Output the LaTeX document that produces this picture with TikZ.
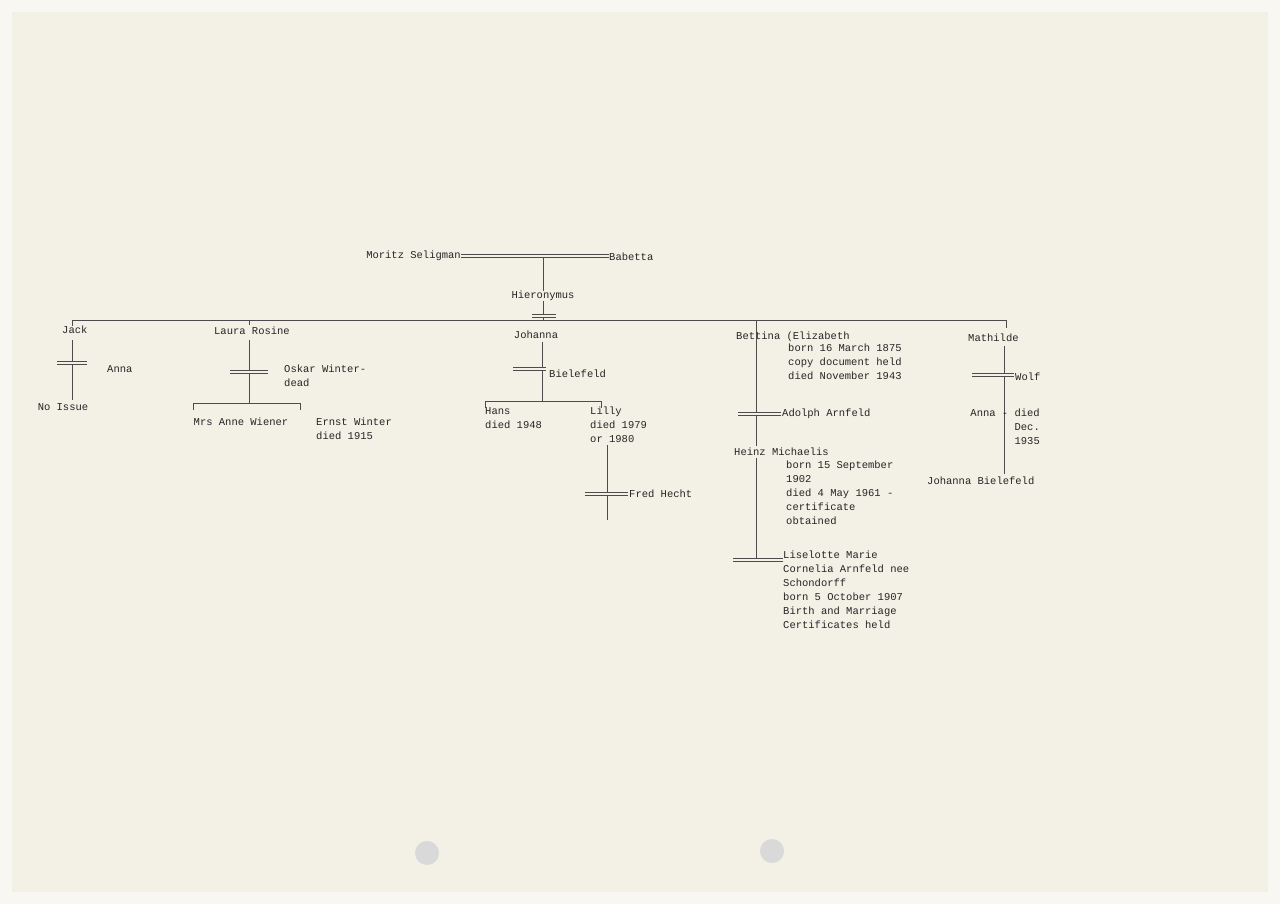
\documentclass[tikz,border=0pt]{standalone}
\usepackage{fontspec}
\setmonofont{Liberation Mono}
\definecolor{paper}{HTML}{F3F0E6}
\definecolor{rim}{HTML}{F8F7F1}
\begin{document}
\begin{tikzpicture}[x=1pt,y=-1pt,
  t/.style={font=\ttfamily\fontsize{10.5}{14}\selectfont,inner sep=0pt,text=black!85,align=left},
  ln/.style={draw=black!70,line width=0.6pt},
  dbl/.style={draw=black!70,line width=0.6pt,double=paper,double distance=2pt}]
\fill[rim] (0,0) rectangle (1280,904);
\fill[paper] (12,12) rectangle (1268,892);
\fill[black!15] (427,853) circle (12);
\fill[black!15] (772,851) circle (12);
% top
\node[t,anchor=east] (moritz) at (461,256) {Moritz Seligman};
\node[t,anchor=west] (babetta) at (609,257) {Babetta};
\draw[dbl] (moritz.east |- 0,256) -- (babetta.west |- 0,256);
\node[t] (hier) at (543,296) {Hieronymus};
\coordinate (m1) at (543,257);
\draw[ln] (m1) -- (hier.north);
\coordinate (hb) at (543,320);
\draw[ln] (hier.south) -- (hb);
\draw[dbl] (532,316) -- (556,316);
% main horizontal
\coordinate (hl) at (72,320); \coordinate (hr) at (1006,320);
\draw[ln] (hl) -- (hr);
% Jack
\node[t,anchor=west] (jack) at (62,330) {Jack};
\node[t,anchor=west] (anna1) at (107,369) {Anna};
\node[t] (noissue) at (63,407) {No Issue};
\draw[ln] (72,320) -- (72,326);
\draw[ln] (72,340) -- (72,400);
\draw[dbl] (57,363) -- (87,363);
% Laura
\node[t] (laura) at (252,331) {Laura Rosine};
\node[t,anchor=west] (oskar) at (284,376) {Oskar Winter-\\dead};
\draw[ln] (249,320) -- (249,325);
\draw[ln] (249,340) -- (249,403);
\draw[dbl] (230,372) -- (268,372);
\draw[ln] (193,410) -- (193,403) -- (300,403) -- (300,410);
\node[t] (anne) at (241,422) {Mrs Anne Wiener};
\node[t,anchor=west] (ernst) at (316,429) {Ernst Winter\\died 1915};
% Johanna
\node[t] (johanna) at (536,335) {Johanna};
\node[t,anchor=west] (biel) at (549,374) {Bielefeld};
\draw[ln] (542,342) -- (542,401);
\draw[dbl] (513,369) -- (546,369);
\draw[ln] (485,408) -- (485,401) -- (601,401) -- (601,408);
\node[t,anchor=west] (hans) at (485,418) {Hans\\died 1948};
\node[t,anchor=west] (lilly) at (590,425) {Lilly\\died 1979\\or 1980};
\draw[ln] (607,445) -- (607,520);
\node[t,anchor=west] (fred) at (629,494) {Fred Hecht};
\draw[dbl] (585,494) -- (628,494);
% Bettina
\node[t,anchor=west] (bett) at (736,337) {Bettina (Elizabeth};
\node[t,anchor=north west] (bett2) at (788,344) {born 16 March 1875\\copy document held\\died November 1943};
\draw[ln] (756,320) -- (756,562);
\node[t,anchor=west] (adolph) at (782,414) {Adolph Arnfeld};
\draw[dbl] (738,414) -- (781,414);
\node[t,anchor=west,fill=paper,inner ysep=2pt] (heinz) at (734,452) {Heinz Michaelis};
\node[t,anchor=north west] (heinz2) at (786,461) {born 15 September\\1902\\died 4 May 1961 -\\certificate\\obtained};
\node[t,anchor=north west] (lise) at (783,551) {Liselotte Marie\\Cornelia Arnfeld nee\\Schondorff\\born 5 October 1907\\Birth and Marriage\\Certificates held};
\draw[dbl] (733,560) -- (783,560);
% Mathilde
\node[t,anchor=west] (math) at (968,338) {Mathilde};
\draw[ln] (1006,320) -- (1006,328);
\draw[ln] (1004,346) -- (1004,474);
\node[t,anchor=west] (wolf) at (1015,377) {Wolf};
\draw[dbl] (972,375) -- (1014,375);
\node[t,anchor=north east,align=right] (anna2) at (1040,409) {Anna - died\\Dec.\\1935};
\node[t,anchor=west] (jb) at (927,481) {Johanna Bielefeld};
\end{tikzpicture}
\end{document}
